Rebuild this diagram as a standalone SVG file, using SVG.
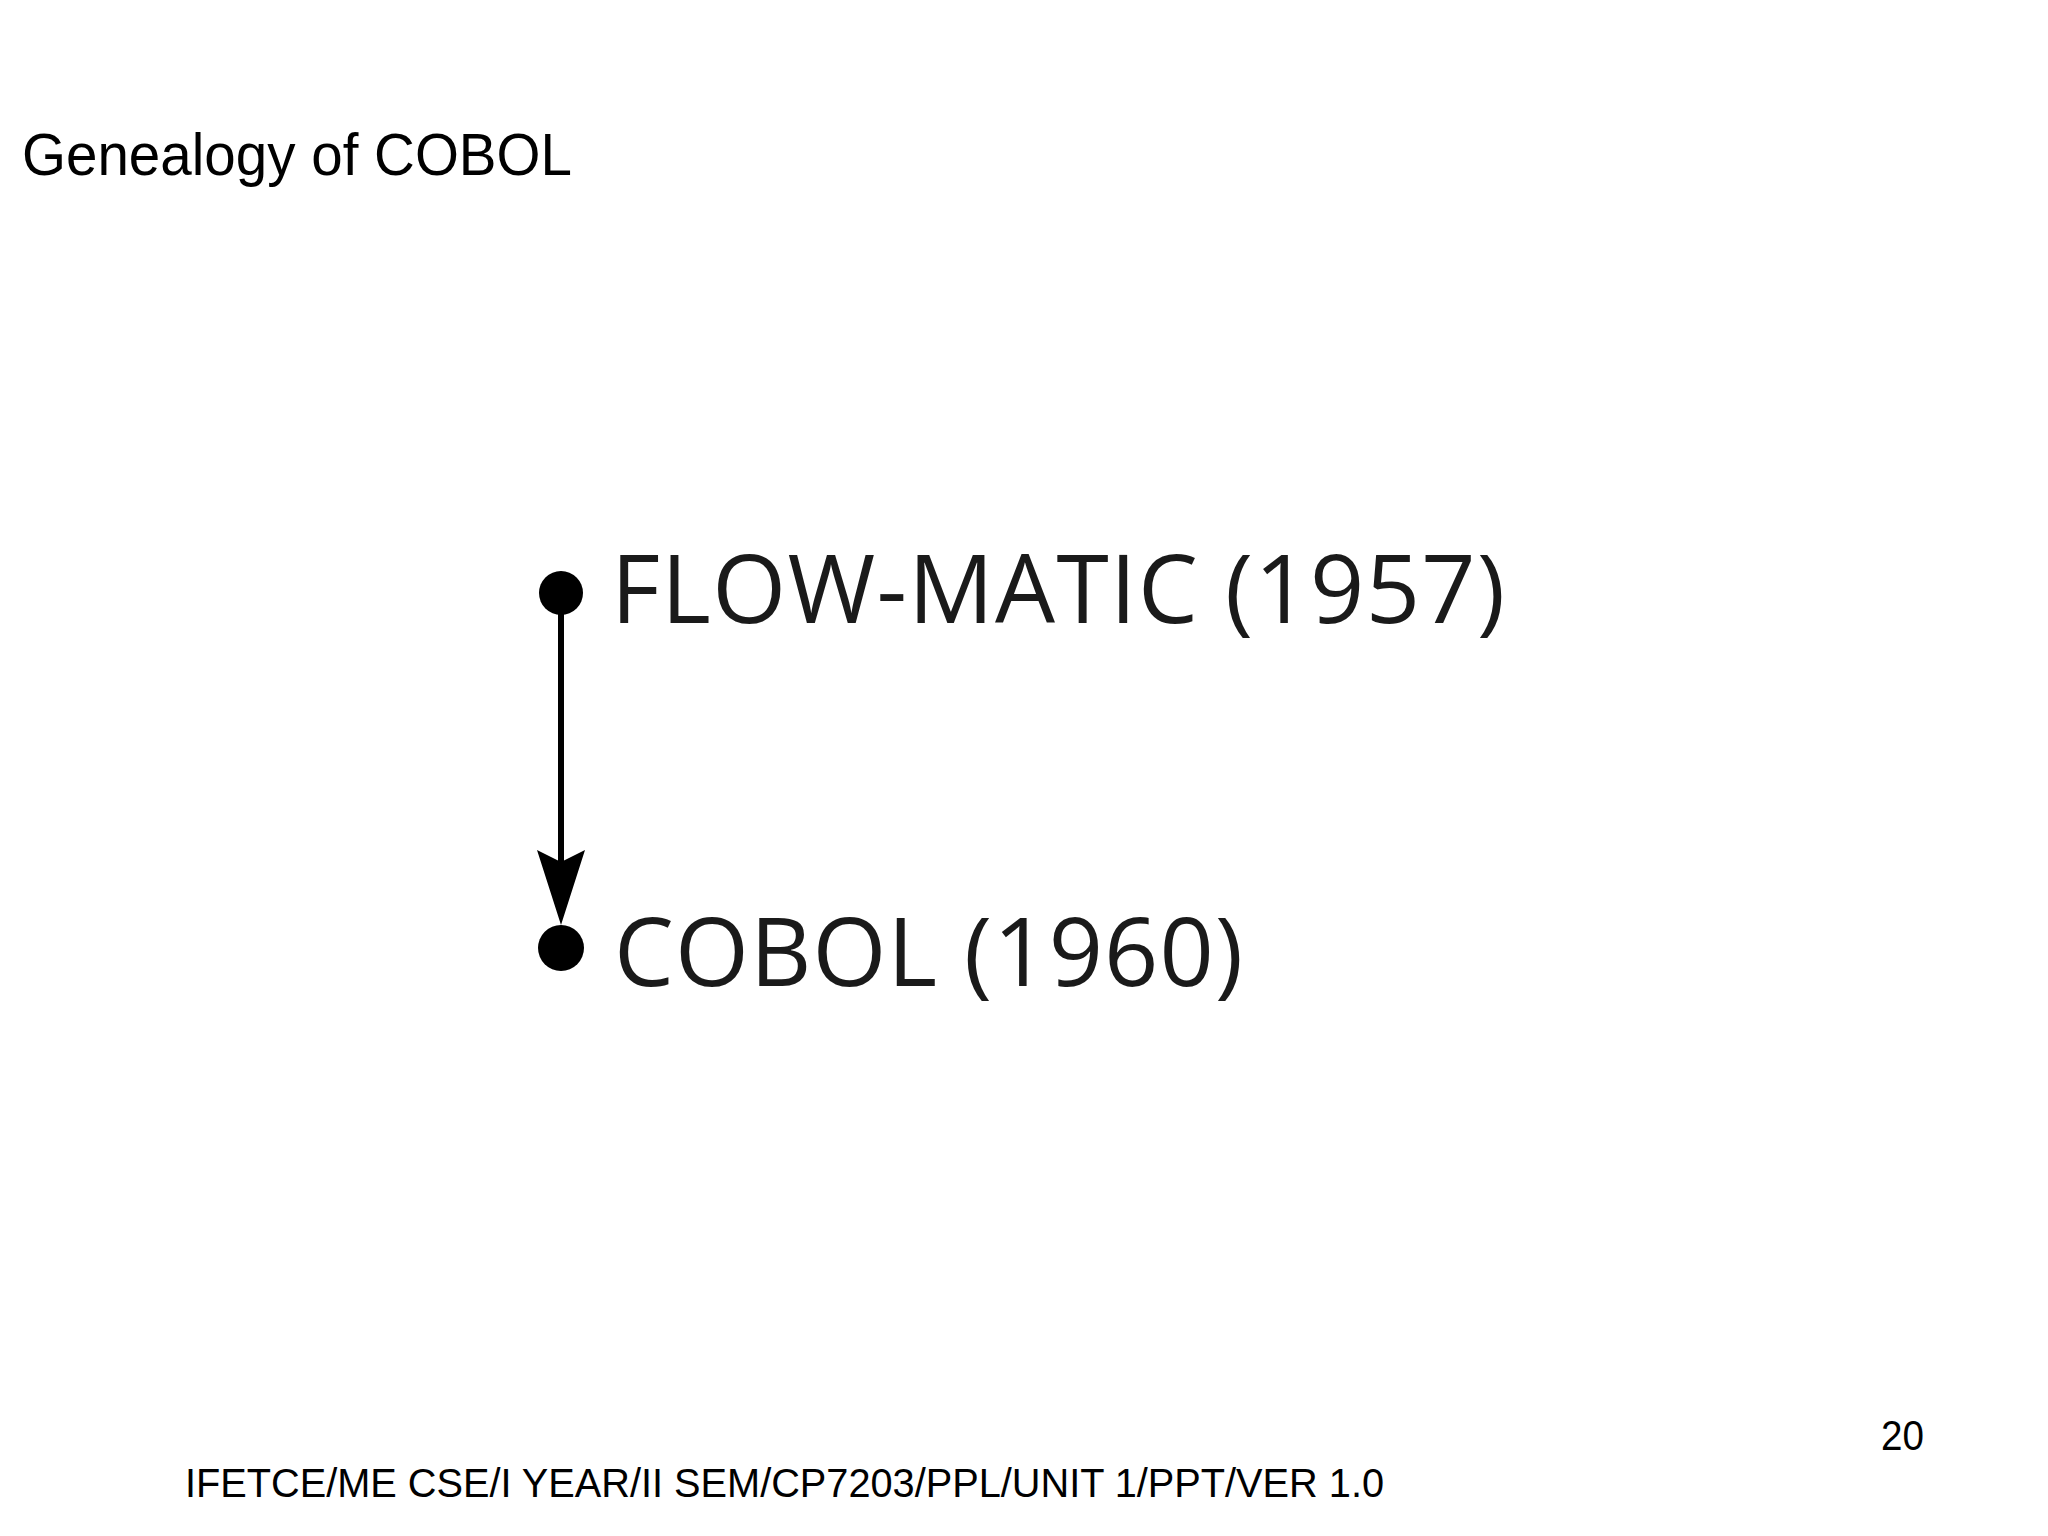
<svg xmlns="http://www.w3.org/2000/svg" width="2048" height="1536" viewBox="0 0 2048 1536">
<style>
.t{font-family:"Liberation Sans",Arial,sans-serif;fill:#000}
.n{font-family:"Open Sans","Noto Sans",sans-serif;fill:#1a1a1a;font-size:95px}
.dot{fill:#000}
.edge{stroke:#000;stroke-width:6;fill:none}
.head{fill:#000}
</style>
<rect width="2048" height="1536" fill="#fff"/>
<text class="t" x="22" y="175" font-size="59" textLength="550" lengthAdjust="spacingAndGlyphs">Genealogy of COBOL</text>
<g id="connectors">
<line class="edge" x1="561" y1="600" x2="561" y2="870"/>
<path class="head" d="M537 850 L561 862 L585 850 L561 925 Z"/>
</g>
<g id="flowmatic">
<circle class="dot" cx="561" cy="593" r="22"/>
<text class="n" x="611" y="623" textLength="894" lengthAdjust="spacing">FLOW-MATIC (1957)</text>
</g>
<g id="cobol">
<circle class="dot" cx="561" cy="948" r="23"/>
<text class="n" x="614" y="986" textLength="629" lengthAdjust="spacing">COBOL (1960)</text>
</g>
<text class="t" x="1881" y="1450" font-size="42" textLength="43" lengthAdjust="spacingAndGlyphs">20</text>
<text class="t" x="185" y="1497" font-size="40" textLength="1199" lengthAdjust="spacingAndGlyphs">IFETCE/ME CSE/I YEAR/II SEM/CP7203/PPL/UNIT 1/PPT/VER 1.0</text>
</svg>
